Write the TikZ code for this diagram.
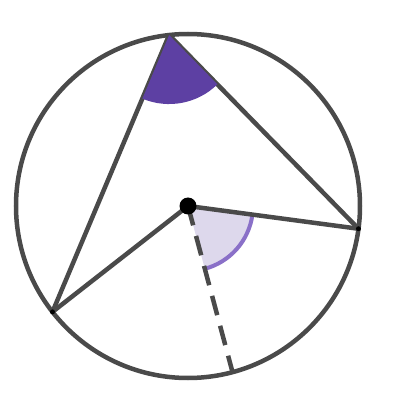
\documentclass[tikz,border=0pt]{standalone}
\usetikzlibrary{calc}
\begin{document}
\begin{tikzpicture}[x=1pt,y=1pt]
   		\definecolor{LineColor}{RGB}{74,74,74}
   		\definecolor{DarkPurple}{RGB}{93,64,163}
   		\definecolor{LightPurple}{RGB}{221,216,236}
   		\definecolor{ArcPurple}{RGB}{138,112,200}
   		\def \R {172}
   		\def \rTop {69}
   		\def \rCen {65}
   		\def \LW {4.5pt}
   		\useasboundingbox (0,0) rectangle (400,400);
   		
   		\coordinate (centre) at (188,194);
   		\coordinate (top) at ($(centre)+(96.3:\R)$);
   		\coordinate (left) at ($(centre)+(218:\R)$);
   		\coordinate (right) at ($(centre)+(-7.6:\R)$);
   		\coordinate (bottom) at ($(centre)+(-75:\R)$);
   		
   		% central angle
   		\fill [LightPurple] (centre) -- ($(centre)+(-7.6:\rCen)$) arc (-7.6:-75:\rCen) -- cycle;
   		\draw [ArcPurple, line width=4pt] ($(centre)+(-7.6:\rCen)$) arc (-7.6:-75:\rCen);
   		
   		\draw [LineColor, line width=\LW] (centre) circle (\R);
   		\draw [LineColor, line width=\LW, line join=round] (left) -- (top) -- (right);
   		\draw [LineColor, line width=\LW] (left) -- (centre) -- (right);
   		\draw [LineColor, line width=\LW, dash pattern=on 20pt off 11pt] (centre) -- (bottom);
   		
   		% inscribed angle
   		\fill [DarkPurple] (top) -- ($(top)+(247.2:\rTop)$) arc (247.2:314.4:\rTop) -- cycle;
   		
   		\fill [black] (centre) circle (8.5);
   		\fill [black] (left) circle (2.5);
   		\fill [black] (right) circle (2.5);
\end{tikzpicture}
\end{document}
